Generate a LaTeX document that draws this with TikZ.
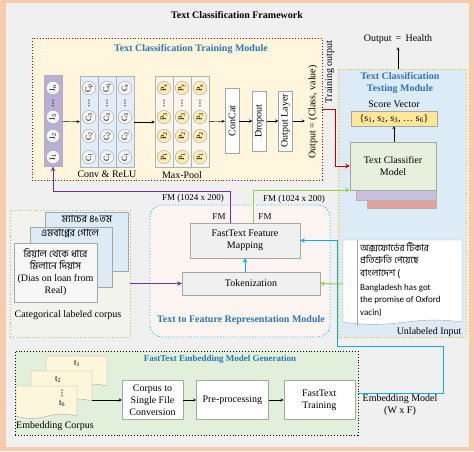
\documentclass[tikz,border=0pt]{standalone}
\usepackage{fontspec}
\setmainfont{Liberation Serif}
\newfontfamily\bnfont[Script=Bengali]{Hind Siliguri}
\newfontfamily\calfont{Carlito}
\usepackage{tikz}
\usetikzlibrary{positioning, arrows, shapes, calc}

\definecolor{framebg}{HTML}{F8CBAD}
\definecolor{panelbg}{HTML}{F0F0F0}
\definecolor{titleblue}{HTML}{2E75B6}
\definecolor{trainred}{HTML}{C00000}
\definecolor{trainfill}{HTML}{FFF6DD}
\definecolor{testfill}{HTML}{DDEBF7}
\definecolor{testgold}{HTML}{FFC000}
\definecolor{inpurple}{HTML}{B9AED8}
\definecolor{convblue}{HTML}{E1EDF8}
\definecolor{poolfill}{HTML}{FAF6EC}
\definecolor{poolcirc}{HTML}{FFEDB5}
\definecolor{clfgreen}{HTML}{E7F0DC}
\definecolor{clfpurple}{HTML}{C8C0DE}
\definecolor{clfred}{HTML}{E2A39C}
\definecolor{scoreyellow}{HTML}{FFE699}
\definecolor{tffill}{HTML}{FBF4F1}
\definecolor{cyanline}{HTML}{00B0F0}
\definecolor{fmgreen}{HTML}{92D050}
\definecolor{fmpurple}{HTML}{7030A0}
\definecolor{catline}{HTML}{A9C47F}
\definecolor{catfill}{HTML}{F3F3EE}
\definecolor{embfill}{HTML}{E2EFDA}
\definecolor{docyellow}{HTML}{FDF6DA}

\tikzstyle{module} = [rectangle, inner sep=0pt, line width=0.9pt, dotted]
\tikzstyle{modtitle} = [text=titleblue, font=\bfseries, align=center]
\tikzstyle{procbox} = [rectangle, draw=gray!70, fill=white, text centered, align=center, inner sep=1pt]
\tikzstyle{rotbox} = [procbox, rotate=90, minimum width=62pt, minimum height=14pt]
\tikzstyle{colbox} = [rectangle, draw=gray!60, minimum width=18pt, minimum height=91pt, inner sep=0pt]
\tikzstyle{neuron} = [circle, draw=gray!70, fill=gray!8, minimum size=13.5pt, inner sep=0pt, rotate=90, font=\footnotesize]
\tikzstyle{vdots} = [rotate=90, inner sep=0pt, font=\bfseries\footnotesize]
\tikzstyle{docline} = [draw=gray!70]
\tikzstyle{arrow} = [->, >=stealth]
\tikzstyle{rarrow} = [->, >=stealth, trainred, line width=1pt]
\tikzstyle{garrow} = [->, >=stealth, fmgreen, line width=1pt]
\tikzstyle{parrow} = [->, >=stealth, fmpurple, line width=1pt]
\tikzstyle{barrow} = [->, >=stealth, cyanline, line width=1pt]

% document sheet with a wavy lower edge
\newcommand{\wavydoc}[5]{%
  \draw[docline, fill=#5] (#1,#2) -- (#3,#2) -- (#3,#4)
    .. controls ({#3-0.45*(#3-#1)},{#4-7}) and ({#1+0.45*(#3-#1)},{#4+8}) .. (#1,#4) -- cycle;}

\begin{document}
\begin{tikzpicture}[x=1pt, y=-1pt, node distance=13pt]
\useasboundingbox (0,0) rectangle (474,451);
\fill[framebg] (0,0) rectangle (474,451);
\fill[panelbg] (6,3) rectangle (469,447);

\node (title) at (237,15) {\textbf{Text Classification Framework}};

% training module
\node (train) [module, draw=trainred, fill=trainfill, minimum width=290pt, minimum height=142pt] at (177,109) {};
\node (traintitle) [modtitle] at (191,49) {Text Classification Training Module};

\node (inp) [colbox, fill=inpurple] at (53,121) {};
\foreach \y/\lab in {157/1, 136/2, 117/3}
  \node (in\lab) [neuron] at (53,\y) {I\textsubscript{\lab}};
\node (indots) [vdots] at (53,103) {\dots};
\node (inn) [neuron] at (53,88) {I\textsubscript{n}};

\foreach \x/\top [count=\i] in {89/p, 107/q, 125/r} {
  \node (conv\i) [colbox, fill=convblue] at (\x,122) {};
  \foreach \y/\lab in {157/1, 136/2, 117/3}
    \node [neuron] at (\x,\y) {C\textsubscript{\lab}};
  \node [vdots] at (\x,103) {\dots};
  \node [neuron] at (\x,88) {C\textsubscript{\top}};
}
\foreach \x/\top [count=\i] in {164/x, 182/y, 200/z} {
  \node (pool\i) [colbox, fill=poolfill] at (\x,122) {};
  \foreach \y/\lab in {157/1, 136/2, 117/3}
    \node [neuron, fill=poolcirc] at (\x,\y) {P\textsubscript{\lab}};
  \node [vdots] at (\x,103) {\dots};
  \node [neuron, fill=poolcirc] at (\x,88) {P\textsubscript{\top}};
}
\node (convlbl) [below=0pt of conv2] {Conv \& ReLU};
\node (poollbl) [below=0pt of pool2] {Max-Pool};

\node (concat) [rotbox, minimum width=65pt] at (232,121) {ConCat};
\node (dropout) [rotbox, minimum width=60pt] at (259.5,121) {Dropout};
\node (olayer) [rotbox, minimum width=60pt] at (285.5,121) {Output Layer};
\node (outcls) [rotate=90] at (313,112) {Output = (Class, value)};
\node (trainout) [rotate=90] at (330,72) {Training output};

\draw [arrow] (inp) -- (conv1);
\draw [arrow] (conv3) -- (pool1);
\draw [arrow] (pool3) -- (concat);
\draw [arrow] (concat) -- (dropout);
\draw [arrow] (dropout) -- (olayer);
\draw [arrow] (olayer) -- (olayer -| outcls.north);

% testing module
\node (test) [module, draw=testgold, fill=testfill, minimum width=128pt, minimum height=268pt] at (402,203) {};
\node (testtitle) [modtitle] at (400,83) {Text Classification\\Testing Module};
\node (health) at (398,39) {Output\, = \,Health};
\draw [arrow] (health.south |- test.north) -- (health.south);

\fill[clfred, draw=gray!60] (367,190) rectangle (436,208);
\fill[clfpurple, draw=gray!60] (356,180) rectangle (436,200);
\node (clf) [procbox, fill=clfgreen, minimum width=86pt, minimum height=48pt] at (393,166) {Text Classifier\\Model};
\node (score) [procbox, fill=scoreyellow, minimum width=86pt, minimum height=15pt] at (394,118.5)
  {\{s\textsubscript{1}, s\textsubscript{2}, s\textsubscript{3}, \dots\ s\textsubscript{6}\}};
\node (scorelbl) [above=0pt of score] {Score Vector};
\draw [arrow] (clf.north -| score.south) -- (score.south);
\draw [rarrow] (train.east) -- ++(13,0) |- (clf.west);

% unlabeled input
\wavydoc{343}{240}{462}{322}{white}
\draw[docline] (357,240) -- (357,326);
\node (unlbn) [anchor=north west, align=left, inner sep=0pt, font=\bnfont\fontsize{9.5}{12.5}\selectfont] at (360,242)
  {অক্সফোর্ডের টিকার\\প্রতিশ্রুতি পেয়েছে\\বাংলাদেশ (};
\node (unlen) [anchor=north west, align=left, inner sep=0pt, font=\calfont\fontsize{9}{12.5}\selectfont] at (360,284)
  {Bangladesh has got\\the promise of Oxford\\vacin)};
\node (unllbl) [anchor=east] at (465,332) {Unlabeled Input};
\coordinate (udoc) at (343,284);

% text to feature module
\node (tfmod) [module, draw=cyanline, fill=tffill, rounded corners=12pt, minimum width=180pt, minimum height=132pt] at (240,271) {};
\node (tftitle) [modtitle] at (241,320) {Text to Feature Representation Module};
\node (map) [procbox, fill=gray!12, minimum width=110pt, minimum height=35pt] at (245,240.5) {FastText Feature\\Mapping};
\node (token) [procbox, fill=gray!12, minimum width=138pt, minimum height=23pt] at (251,283.5) {Tokenization};
\draw [barrow] (token.north -| map.south) -- (map.south);
\draw [garrow] (udoc) -- (token.east);

\draw [parrow] ($(map.north)+(-15,0)$) -- ++(0,-31) -| (inp.south);
\draw [garrow] ($(map.north)+(8,0)$) |- (clf.south west);
\node (fmp) [font=\small] at (193,198) {FM (1024 x 200)};
\node (fmp2) [font=\small] at (219,217) {FM};
\node (fmg) [font=\small] at (294,199) {FM (1024 x 200)};
\node (fmg2) [font=\small] at (265,217) {FM};

% categorical corpus
\node (catbox) [module, draw=catline, fill=catfill, minimum width=120pt, minimum height=127pt] at (70,273.5) {};
\draw[docline, fill=testfill] (45,212) rectangle (128,271);
\node (bdoc) [font=\bnfont] at (87,219) {ম্যাচের ৪১তম};
\draw[docline, fill=testfill] (30,227) rectangle (112,287);
\node (mdoc) [font=\bnfont] at (70,234) {এমবাপ্পের গোলে};
\draw[docline, fill=gray!6] (14,243) rectangle (97,302);
\node (fdoc) [align=center, inner sep=0pt] at (55.5,272)
  {{\bnfont রিয়াল থেকে ধারে}\\{\bnfont মিলানে দিয়াস}\\(Dias on loan from\\Real)};
\node (catlbl) at (68,315) {Categorical labeled corpus};
\draw [parrow] (token.west -| catbox.east) -- (token.west);

% embedding generation
\node (embmod) [module, draw=black, fill=embfill, minimum width=343pt, minimum height=84pt] at (186.5,393) {};
\node (embtitle) [modtitle, font=\bfseries\small] at (220,359) {FastText Embedding Model Generation};
\wavydoc{46}{356}{107}{386}{docyellow}
\wavydoc{31}{371}{92}{401}{docyellow}
\wavydoc{16}{386}{77}{416}{docyellow}
\node (t1) [font=\small] at (77,363) {t\textsubscript{1}};
\node (t2) [font=\small] at (58,379) {t\textsubscript{2}};
\node (tdots) [vdots] at (62,393) {\dots};
\node (t6) [font=\small] at (62,403) {t\textsubscript{6}};
\node (corplbl) [anchor=west, inner sep=0pt] at (16,426) {Embedding Corpus};
\coordinate (ecorp) at (92,400);

\node (c2s) [procbox, minimum width=61pt, minimum height=39pt] at (152.5,400) {Corpus to\\Single File\\Conversion};
\node (prep) [procbox, minimum width=72pt, minimum height=39pt, right=13pt of c2s] {Pre-processing};
\node (ftt) [procbox, minimum width=71pt, minimum height=39pt, right=15pt of prep] {FastText\\Training};
\draw [arrow] (ecorp) -- (c2s);
\draw [arrow] (c2s) -- (prep);
\draw [arrow] (prep) -- (ftt);

\draw [barrow] (embmod.east) -- ++(85,0) -- ++(0,-47) -- ++(-106,0) |- (map.east);
\node (emblbl) [align=center] at (400,405) {Embedding Model\\(W x F)};
\end{tikzpicture}
\end{document}
